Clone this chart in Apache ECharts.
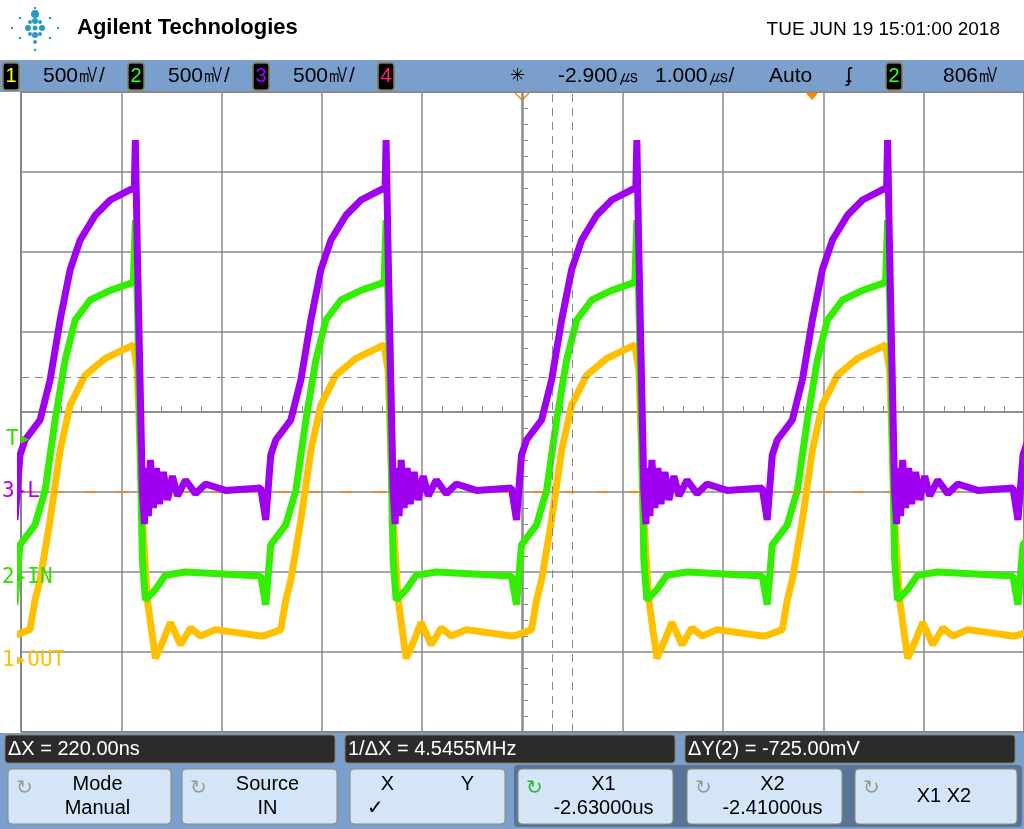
<!DOCTYPE html>
<html><head><meta charset="utf-8">
<script src="https://cdn.jsdelivr.net/npm/echarts@6/dist/echarts.min.js"></script>
<style>html,body{margin:0;padding:0;background:#fff}#c{width:1024px;height:829px}</style>
</head><body><div id="c"></div>
<script>
// one measured period per channel: [time from rise start (div), level (div from bottom)]
const ch3Period = [[-0.05,3.05],[0,2.65],[0.05,3.46],[0.1,3.65],[0.25,3.9],[0.35,4.4],[0.45,5.15],[0.55,5.78],[0.65,6.15],[0.8,6.46],[0.95,6.65],[1.15,6.78],[1.19,6.8],[1.2,7.4],[1.22,6.0],[1.27,3.02],[1.29,2.6],[1.31,3.3],[1.33,2.7],[1.35,3.4],[1.38,2.8],[1.41,3.3],[1.44,2.85],[1.48,3.25],[1.52,2.9],[1.57,3.2],[1.62,2.95],[1.7,3.15],[1.8,2.98],[1.9,3.1],[2.1,3.02],[2.45,3.05]];
const ch2Period = [[-0.05,1.96],[0,1.59],[0.05,2.34],[0.2,2.59],[0.3,3.02],[0.4,3.9],[0.5,4.65],[0.6,5.15],[0.75,5.4],[0.95,5.52],[1.18,5.62],[1.2,6.4],[1.22,5.4],[1.27,2.15],[1.3,1.65],[1.4,1.78],[1.5,1.96],[1.7,2.0],[2.45,1.95]];
const ch1Period = [[-0.05,1.2],[0,1.21],[0.15,1.28],[0.2,1.65],[0.25,1.9],[0.35,2.65],[0.45,3.52],[0.55,4.09],[0.7,4.46],[0.9,4.67],[1.18,4.84],[1.22,4.52],[1.27,2.65],[1.32,1.65],[1.4,0.92],[1.48,1.15],[1.55,1.37],[1.65,1.09],[1.75,1.3],[1.85,1.2],[2.0,1.28],[2.45,1.2]];
const riseStarts = [-2.56,-0.06,2.44,4.94,7.44,9.94];
const build = p => riseStarts.flatMap(s => p.map(([t,y]) => [s+t, y]));

const chart = echarts.init(document.getElementById('c'));
const TXT = 'Liberation Sans';
const sb = '#7b9fcd';
const G = [];
G.push({type:'text',left:77,top:17,style:{text:'Agilent Technologies',font:'bold 22px '+TXT,fill:'#000'}});
G.push({type:'text',right:24,top:20,style:{text:'TUE JUN 19 15:01:00 2018',font:'19px '+TXT,fill:'#000'}});
[[35,9,4],[35,16,3],[35,23,2.5],[42,23,3],[28,23,3],[30,17,2],[40,17,2],[30,29,2],[40,29,2],[35,30,3],[35,37,2],[35,3,1.2],[35,45,1.2],[12,23,1.2],[58,23,1.2],[20,13,1.3],[50,13,1.3],[20,33,1.3],[50,33,1.3]].forEach(([x,y,r])=>G.push({type:'circle',shape:{cx:x,cy:y+5,r:r},style:{fill:'#2a9ac4'}}));
G.push({type:'rect',shape:{x:0,y:60,width:1024,height:32},style:{fill:sb}});
[[3,'1','#ffff00'],[128,'2','#33ff33'],[253,'3','#aa00ff'],[378,'4','#ff2277'],[886,'2','#33ff33']].forEach(([x,t,c])=>{
  G.push({type:'rect',shape:{x:x,y:63,width:16,height:27,r:3},style:{fill:'#000',stroke:'#8a7a50',lineWidth:1.5}});
  G.push({type:'text',x:x+8,y:76,style:{text:t,font:'20px '+TXT,fill:c,align:'center',verticalAlign:'middle'}});
});
[[43,'500㎷/'],[168,'500㎷/'],[293,'500㎷/'],[558,'-2.900㎲'],[655,'1.000㎲/'],[769,'Auto'],[943,'806㎷']].forEach(([x,t])=>G.push({type:'text',x:x,y:76,style:{text:t,font:'21px '+TXT,fill:'#000',verticalAlign:'middle'}}));
G.push({type:'text',x:510,y:76,style:{text:'✳',font:'18px '+TXT,fill:'#000',verticalAlign:'middle'}});
G.push({type:'text',x:846,y:76,style:{text:'ʄ',font:'20px '+TXT,fill:'#000',verticalAlign:'middle'}});
G.push({type:'polygon',shape:{points:[[805,92],[819,92],[812,100]]},style:{fill:'#ff8800'}});
G.push({type:'polyline',shape:{points:[[515,93],[522,100],[529,93]]},style:{stroke:'#ff8800',lineWidth:1.5}});
[[6,440,'T▸','#33dd00'],[2,492,'3▸L','#aa00ff'],[2,578,'2▸IN','#33dd00'],[2,661,'1▸OUT','#ffc000']].forEach(([x,y,t,c])=>G.push({type:'text',x:x,y:y,z:100,style:{text:t,font:'21px "DejaVu Sans Mono"',fill:c,verticalAlign:'middle'}}));
G.push({type:'rect',shape:{x:0,y:733,width:1024,height:96},style:{fill:sb}});
[[5,'ΔX = 220.00ns'],[345,'1/ΔX = 4.5455MHz'],[685,'ΔY(2) = -725.00mV']].forEach(([x,t])=>{
  G.push({type:'rect',shape:{x:x,y:735,width:330,height:28,r:3},style:{fill:'#2b2b2b',stroke:'#8a7a50'}});
  G.push({type:'text',x:x+3,y:749,style:{text:t,font:'20px '+TXT,fill:'#fff',verticalAlign:'middle'}});
});
G.push({type:'rect',shape:{x:514,y:765,width:508,height:62,r:4},style:{fill:'#5a7497'}});
[[8,163,'Mode','Manual'],[182,155,'Source','IN'],[350,155,'X            Y','✓     '],[518,155,'X1','-2.63000us'],[687,155,'X2','-2.41000us'],[855,162,'','X1 X2']].forEach(([x,w,a,b],i)=>{
  G.push({type:'rect',shape:{x:x,y:769,width:w,height:55,r:4},style:{fill:'#d5e5f8',stroke:'#8a8a70'}});
  if(i!==2) G.push({type:'text',x:x+16,y:788,style:{text:'↻',font:'20px '+TXT,fill:i===3?'#22bb22':'#999',align:'center',verticalAlign:'middle'}});
  G.push({type:'text',x:x+w/2+(i===2?0:8),y:784,style:{text:a,font:'20px '+TXT,fill:'#000',align:'center',verticalAlign:'middle'}});
  G.push({type:'text',x:x+w/2+(i===2?-38:8),y:i===5?796:808,style:{text:b,font:'20px '+TXT,fill:'#000',align:'center',verticalAlign:'middle'}});
});

const ln = (c)=>({type:'line',showSymbol:false,symbol:'none',clip:true,lineStyle:{color:c,width:7},animation:false});
chart.setOption({
  animation:false,
  grid:{left:21,top:92,width:1003,height:640,show:true,borderColor:'#000',borderWidth:1},
  xAxis:[{type:'value',min:0,max:10,interval:1,axisLabel:{show:false},axisTick:{show:false},axisLine:{show:false},splitLine:{lineStyle:{color:'#888',width:1.5}}},
         {type:'value',min:0,max:10,interval:1,position:'bottom',offset:-320,gridIndex:0,axisLabel:{show:false},axisLine:{lineStyle:{color:'#888',width:1.5}},axisTick:{inside:true,length:0},minorTick:{show:true,splitNumber:5,length:6,lineStyle:{color:'#888'}},splitLine:{show:false}}],
  yAxis:[{type:'value',min:0,max:8,interval:1,axisLabel:{show:false},axisTick:{show:false},axisLine:{show:false},splitLine:{lineStyle:{color:'#888',width:1.5}}},
         {type:'value',min:0,max:8,interval:1,position:'left',offset:-501,axisLabel:{show:false},axisLine:{lineStyle:{color:'#888',width:1.5}},axisTick:{inside:true,length:0},minorTick:{show:true,splitNumber:5,length:6,lineStyle:{color:'#888'}},splitLine:{show:false}}],
  series:[
    Object.assign(ln('#ffc000'),{data:build(ch1Period),z:3}),
    Object.assign(ln('#33ee00'),{data:build(ch2Period),z:4}),
    Object.assign(ln('#a000f0'),{data:build(ch3Period),z:5,
      markLine:{silent:true,symbol:'none',label:{show:false},data:[
        {yAxis:3.0,lineStyle:{color:'#ff8800',type:[12,20],width:1.5}},
        {yAxis:4.44,lineStyle:{color:'#888',type:[8,6],width:1}},
        {xAxis:5.3,lineStyle:{color:'#888',type:[8,6],width:1}},
        {xAxis:5.5,lineStyle:{color:'#888',type:[8,6],width:1}}]}})
  ],
  graphic:G
});
</script></body></html>
